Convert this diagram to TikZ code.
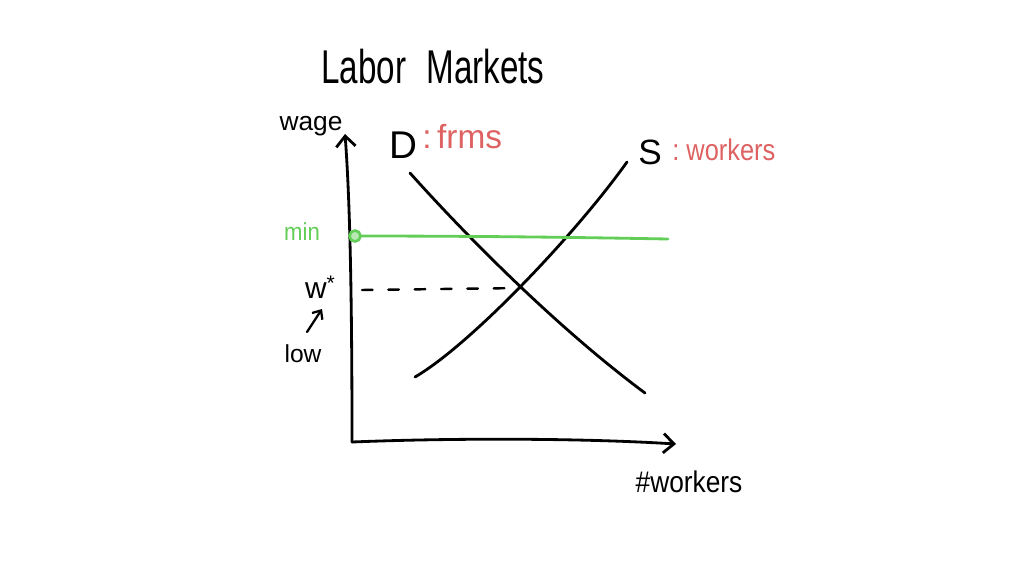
\documentclass[tikz,border=0pt]{standalone}
\usepackage{fontspec}
\usepackage{graphicx}
\setmainfont{Liberation Sans}
\usetikzlibrary{arrows.meta}
\definecolor{hwred}{RGB}{222,98,98}
\definecolor{hwgreen}{RGB}{98,206,88}
\newcommand{\hxs}[2]{\scalebox{#1}[1]{#2}}
\tikzset{
  ink/.style={line width=1.6pt, line cap=round, line join=round, black},
  lbl/.style={inner sep=0pt, anchor=base},
  barb/.style={-{Straight Barb[length=6pt,width=11pt,line width=1.6pt]}}
}
\begin{document}
\begin{tikzpicture}[x=0.02cm,y=-0.02cm]
\useasboundingbox (0,0) rectangle (1024,576);
% coordinates
\coordinate (O) at (352,442);
\coordinate (ytop) at (345,134);
\coordinate (xend) at (676,444);
\coordinate (eq) at (521,288);
\coordinate (minL) at (355,236);
\coordinate (minR) at (668,239);
\coordinate (dashL) at (362,290);
\coordinate (lowtip) at (322,309);
\coordinate (lowtail) at (307,332);
% title
\node[lbl] (title) at (433,83) {\fontsize{27pt}{29pt}\selectfont\hxs{0.7}{Labor\hspace{0.6em}Markets}};
% axes
\draw[ink, barb] (O) .. controls (352,300) and (350,200) .. (ytop);
\draw[ink, barb] (O) .. controls (450,438) and (580,438) .. (xend);
\node[lbl] (wage) at (311,130) {\fontsize{15pt}{17pt}\selectfont wage};
\node[lbl] (xlab) at (689,492) {\fontsize{17pt}{19pt}\selectfont\hxs{0.88}{\#workers}};
% demand
\draw[ink] (410,173) .. controls (470,240) and (560,330) .. (645,393);
% supply
\draw[ink] (415,377) .. controls (470,345) and (575,235) .. (627,162);
% labels D and S
\node[lbl] (D) at (403,158) {\fontsize{22pt}{24pt}\selectfont D};
\node[lbl, anchor=base west, text=hwred] (Dlab) at (422,148) {\fontsize{19pt}{21pt}\selectfont :\,frms};
\node[lbl] (S) at (650,164) {\fontsize{20pt}{22pt}\selectfont S};
\node[lbl, anchor=base west, text=hwred] (Slab) at (672,160) {\fontsize{17pt}{19pt}\selectfont\hxs{0.85}{:\ workers}};
% minimum wage
\draw[line width=1.6pt, hwgreen, line cap=round] (minL) .. controls (460,236) and (560,237) .. (minR);
\draw[line width=1.5pt, hwgreen, fill=hwgreen!45] (minL) circle (5.5);
\node[lbl, text=hwgreen] (min) at (302,240) {\fontsize{14pt}{16pt}\selectfont\hxs{0.9}{min}};
% equilibrium dashed
\draw[ink, line width=1.4pt, dash pattern=on 6pt off 9pt] (dashL) -- (eq);
\node[lbl] (wstar) at (320,298) {\fontsize{17pt}{19pt}\selectfont w\raisebox{0.5ex}{\fontsize{12pt}{14pt}\selectfont *}};
% low arrow
\node[lbl] (low) at (303,362) {\fontsize{14pt}{16pt}\selectfont low};
\draw[ink, line width=1.3pt, -{Straight Barb[length=4pt,width=7pt,line width=1.3pt]}] (lowtail) -- (lowtip);
\end{tikzpicture}
\end{document}
